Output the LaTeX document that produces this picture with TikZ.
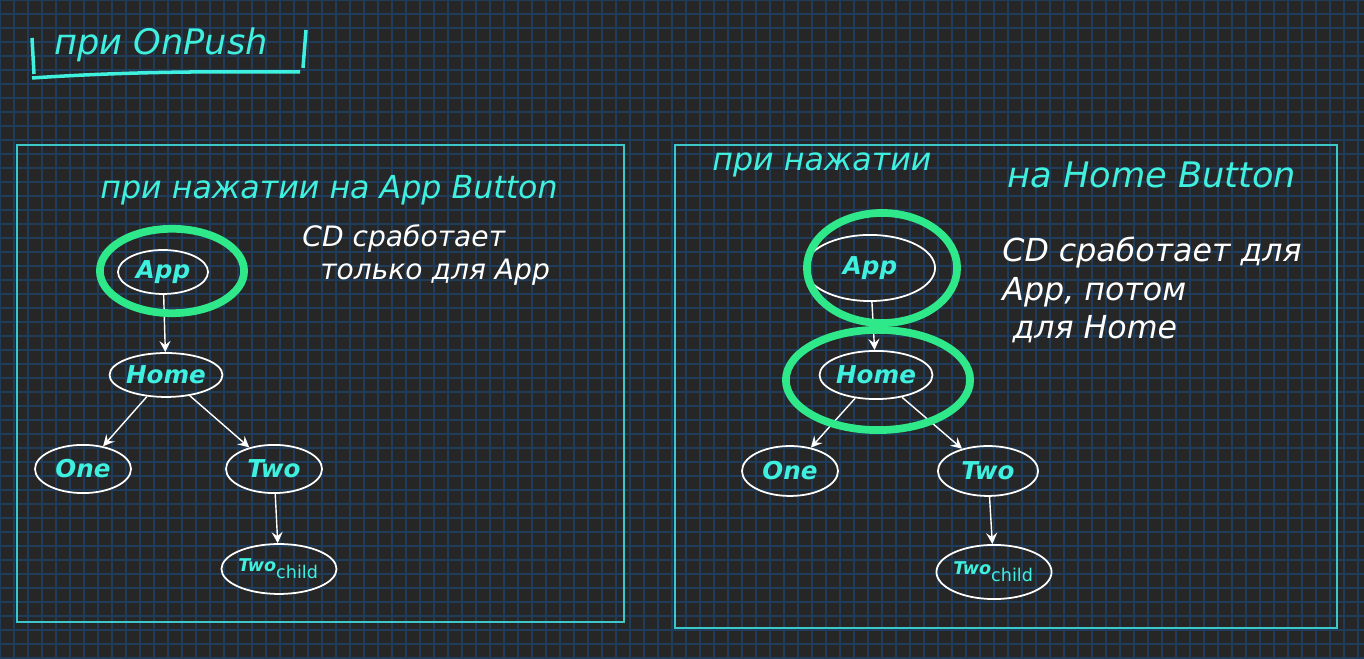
\documentclass[tikz,border=0pt]{standalone}
\usepackage{fontspec}
\setmainfont{DejaVu Sans}
\usetikzlibrary{shapes.geometric}
\definecolor{bg}{HTML}{262626}
\definecolor{gridc}{HTML}{1F3C5A}
\definecolor{cy}{HTML}{3FF0DF}
\definecolor{gr}{HTML}{2EE88A}
\definecolor{boxc}{HTML}{3CC8C8}
\begin{document}
\begin{tikzpicture}[x=0.01cm,y=-0.01cm,
  nd/.style={draw=white,ellipse,line width=0.5pt,text=cy,font=\bfseries\itshape\scriptsize,inner sep=0pt},
  ed/.style={draw=white,line width=0.4pt,-stealth},
  ring/.style={draw=gr,line width=2.2pt},
  hand/.style={text=cy,font=\itshape\small,anchor=west},
  note/.style={text=white,font=\itshape\footnotesize,anchor=west,align=left}]
\fill[bg] (0,0) rectangle (1364,659);
\useasboundingbox (0,0) rectangle (1364,659);
\foreach \i in {0,14,...,1364} \draw[gridc,line width=0.3pt] (\i,0) -- (\i,659);
\foreach \i in {0,14,...,659} \draw[gridc,line width=0.3pt] (0,\i) -- (1364,\i);
\node[hand,font=\itshape\normalsize] (t0) at (42,45) {при OnPush};
\draw[cy,line width=1pt] (32,38) -- (34,74) (306,30) -- (303,68) (32,78) .. controls (150,70) and (250,72) .. (300,72);
% left panel
\draw[boxc,line width=0.5pt] (17,145) rectangle (624,622);
\node[hand] (t1) at (88,190) {при нажатии на App Button};
\node[note] (n1) at (290,255) {CD сработает\\ \ \ только для App};
\node[nd,minimum width=25.6pt,minimum height=12.5pt] (a1) at (163,272) {App};
\node[nd,minimum width=27.3pt,minimum height=12.5pt] (h1) at (166,375) {Home};
\node[nd,minimum width=27.3pt,minimum height=13.7pt] (o1) at (83,469) {One};
\node[nd,minimum width=27.3pt,minimum height=13.7pt] (w1) at (274,469) {Two};
\node[nd,minimum width=27.3pt,minimum height=14.2pt,font=\bfseries\itshape\tiny] (c1) at (279,569) {Two$_{\mathrm{child}}$};
\draw[ed] (a1) -- (h1);
\draw[ed] (h1) -- (o1);
\draw[ed] (h1) -- (w1);
\draw[ed] (w1) -- (c1);
\node[ring,ellipse,minimum width=41pt,minimum height=24pt] (r1) at (172,271) {};
% right panel
\draw[boxc,line width=0.5pt] (675,145) rectangle (1337,628);
\node[hand] (t2) at (700,165) {при нажатии};
\node[hand,font=\itshape\normalsize] (t3) at (995,175) {на Home Button};
\node[note,font=\itshape\small] (n2) at (990,290) {CD сработает для\\App, потом\\ \ для Home};
\node[nd,minimum width=37pt,minimum height=18.8pt] (a2) at (870,268) {App};
\node[nd,minimum width=28.5pt,minimum height=13.7pt] (h2) at (876,375) {Home};
\node[nd,minimum width=27.3pt,minimum height=14.2pt] (o2) at (790,471) {One};
\node[nd,minimum width=28.5pt,minimum height=14.2pt] (w2) at (988,471) {Two};
\node[nd,minimum width=27.9pt,minimum height=15.4pt,font=\bfseries\itshape\tiny] (c2) at (994,572) {Two$_{\mathrm{child}}$};
\draw[ed] (a2) -- (h2);
\draw[ed] (h2) -- (o2);
\draw[ed] (h2) -- (w2);
\draw[ed] (w2) -- (c2);
\node[ring,ellipse,minimum width=42.7pt,minimum height=31.3pt] (r2) at (882,268) {};
\node[ring,ellipse,minimum width=52.4pt,minimum height=28.5pt] (r3) at (878,380) {};
\end{tikzpicture}
\end{document}
